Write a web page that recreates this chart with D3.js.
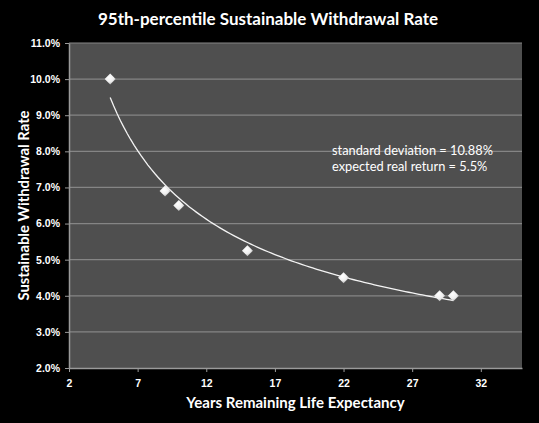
<!DOCTYPE html>
<html>
<head>
<meta charset="utf-8">
<script src="https://cdn.jsdelivr.net/npm/d3@7"></script>
<style>
  html, body { margin: 0; padding: 0; background: #000; }
  svg { display: block; font-family: Lato, "Open Sans", sans-serif; }
</style>
</head>
<body>
<svg width="539" height="423"></svg>
<script>
// data
const years = [5, 9, 10, 15, 22, 29, 30];
const rates = [0.100, 0.069, 0.065, 0.0525, 0.045, 0.040, 0.040];
const xTicks = [2, 7, 12, 17, 22, 27, 32];
const yTicks = [0.02, 0.03, 0.04, 0.05, 0.06, 0.07, 0.08, 0.09, 0.10, 0.11];
const noteLines = ['standard deviation = 10.88%', 'expected real return = 5.5%'];

const svg = d3.select('svg');
const margin = { top: 43, right: 17, bottom: 55, left: 69 };
const width = 539 - margin.left - margin.right;
const height = 423 - margin.top - margin.bottom;

const x = d3.scaleLinear().domain([2, 35]).range([0, width]);
const y = d3.scaleLinear().domain([0.02, 0.11]).range([height, 0]);

const defs = svg.append('defs');
const grad = defs.append('radialGradient').attr('id', 'mk').attr('cx', '40%').attr('cy', '35%').attr('r', '70%');
grad.append('stop').attr('offset', '0%').attr('stop-color', '#ffffff');
grad.append('stop').attr('offset', '60%').attr('stop-color', '#eeeeee');
grad.append('stop').attr('offset', '100%').attr('stop-color', '#a8a8a8');

const g = svg.append('g').attr('transform', `translate(${margin.left},${margin.top})`);

// plot area
g.append('rect').attr('width', width).attr('height', height).attr('fill', '#4f4f4f');

// gridlines
g.selectAll('.grid')
  .data(yTicks.slice(1))
  .enter().append('line')
  .attr('x1', 0).attr('x2', width)
  .attr('y1', d => y(d)).attr('y2', d => y(d))
  .attr('stroke', '#858585').attr('stroke-width', 1.2);

// axes
const xAxis = g.append('g')
  .attr('transform', `translate(0,${height})`)
  .call(d3.axisBottom(x).tickValues(xTicks).tickSize(4).tickSizeOuter(0));
const yAxis = g.append('g')
  .call(d3.axisLeft(y).tickValues(yTicks).tickFormat(d3.format('.1%')).tickSize(4).tickSizeOuter(0));

[xAxis, yAxis].forEach(a => {
  a.select('.domain').attr('stroke', '#9a9a9a').attr('stroke-width', 1.5);
  a.selectAll('.tick line').attr('stroke', '#9a9a9a');
  a.selectAll('.tick text').attr('fill', '#fff').attr('font-size', 10.5).attr('font-weight', 'bold');
});
xAxis.selectAll('.tick text').attr('dy', '1.1em');
yAxis.selectAll('.tick text').attr('x', -9);

// power trendline fitted to the points
const lx = years.map(Math.log), ly = rates.map(Math.log);
const mx = d3.mean(lx), my = d3.mean(ly);
const b = d3.sum(lx, (v, i) => (v - mx) * (ly[i] - my)) / d3.sum(lx, v => (v - mx) ** 2);
const a = Math.exp(my - b * mx);
const trend = d3.range(5, 30.01, 0.25).map(v => [v, a * Math.pow(v, b)]);

g.append('path')
  .datum(trend)
  .attr('fill', 'none')
  .attr('stroke', '#f4f4f4')
  .attr('stroke-width', 1.3)
  .attr('d', d3.line().x(d => x(d[0])).y(d => y(d[1])));

// markers
g.selectAll('.pt')
  .data(years.map((v, i) => [v, rates[i]]))
  .enter().append('path')
  .attr('transform', d => `translate(${x(d[0])},${y(d[1])})`)
  .attr('d', 'M0,-5.5L5.5,0L0,5.5L-5.5,0Z')
  .attr('fill', 'url(#mk)');

// note
g.append('text')
  .attr('x', 332 - margin.left).attr('y', 155 - margin.top)
  .attr('fill', '#fff').attr('font-size', 12.8)
  .selectAll('tspan')
  .data(noteLines)
  .enter().append('tspan')
  .attr('x', 332 - margin.left).attr('dy', (d, i) => i ? 16 : 0)
  .text(d => d);

// titles
svg.append('text')
  .attr('x', 268).attr('y', 25)
  .attr('text-anchor', 'middle')
  .attr('fill', '#fff').attr('font-size', 17).attr('font-weight', 'bold')
  .text('95th-percentile Sustainable Withdrawal Rate');

svg.append('text')
  .attr('x', margin.left + width / 2).attr('y', 408)
  .attr('text-anchor', 'middle')
  .attr('fill', '#fff').attr('font-size', 15).attr('font-weight', 'bold')
  .text('Years Remaining Life Expectancy');

svg.append('text')
  .attr('transform', `translate(29,${margin.top + height / 2}) rotate(-90)`)
  .attr('text-anchor', 'middle')
  .attr('fill', '#fff').attr('font-size', 14.8).attr('font-weight', 'bold')
  .text('Sustainable Withdrawal Rate');
</script>
</body>
</html>
